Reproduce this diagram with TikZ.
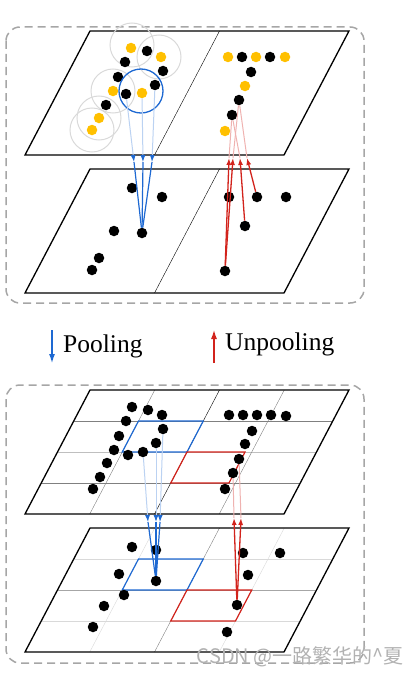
\documentclass[tikz,border=0pt]{standalone}
\usepackage{fontspec}
\setmainfont{Liberation Serif}
\newfontfamily\cjk{Noto Sans CJK SC}
\usetikzlibrary{arrows.meta}

\definecolor{poolblue}{RGB}{30,105,210}
\definecolor{unpoolred}{RGB}{210,35,28}
\definecolor{ptyellow}{RGB}{255,192,0}

\tikzset{
	bdot/.style={circle, fill=black, inner sep=0pt, minimum size=10.5pt},
	ydot/.style={circle, fill=ptyellow, inner sep=0pt, minimum size=10.5pt},
	plane/.style={line width=1.3pt},
	frame/.style={draw=gray!70, line width=1.5pt, dash pattern=on 8pt off 5pt, rounded corners=14pt},
	field/.style={draw=gray!30, line width=1pt},
	poolin/.style={draw=poolblue!30, line width=1pt, -{Latex[color=poolblue, length=7pt, width=5pt]}},
	poolout/.style={draw=poolblue, line width=1.2pt},
	unpoolin/.style={draw=unpoolred, line width=1.3pt, -{Latex[length=7pt, width=5pt]}},
	unpoolout/.style={draw=unpoolred!35, line width=1pt},
	cell/.style={line width=1.2pt}
}

\begin{document}
\begin{tikzpicture}[x=1pt, y=-1pt]
	\useasboundingbox (0,0) rectangle (419,677);

	% ---- point cloud: ball query ----
	\draw [frame] (6,27) rectangle (364,303);
	\draw [plane] (25,155) -- (284,155) -- (349,31) -- (90,31) -- cycle;
	\draw [thin] (154.5,155) -- (219.5,31);
	\draw [plane] (25,293) -- (284,293) -- (349,169) -- (90,169) -- cycle;
	\draw [thin] (154.5,293) -- (219.5,169);

	\foreach \c in {(132,45),(159,57),(113,91),(99,118),(92,130)}
		\draw [field] \c circle (22);

	\foreach \s/\p [count=\i] in {ydot/{131,48}, bdot/{147,51}, ydot/{161,57}, bdot/{125,62},
		bdot/{163,71}, bdot/{118,77}, bdot/{155,85}, ydot/{113,91}, bdot/{126,94},
		ydot/{142,93}, bdot/{106,105}, ydot/{99,118}, ydot/{92,130}}
		\node [\s] (t\i) at (\p) {};
	\foreach \s/\p [count=\i] in {ydot/{228,57}, bdot/{242,57}, ydot/{256,57}, bdot/{270,57},
		ydot/{285,57}, bdot/{251,72}, ydot/{245,86}, bdot/{239,100}, bdot/{232,115}, ydot/{225,131}}
		\node [\s] (s\i) at (\p) {};
	\foreach \p [count=\i] in {{132,188},{162,197},{114,231},{142,233},{99,258},{92,270}}
		\node [bdot] (l\i) at (\p) {};
	\foreach \p [count=\i] in {{229,197},{257,197},{286,197},{245,226},{225,271}}
		\node [bdot] (r\i) at (\p) {};

	\draw [poolblue, line width=1.3pt] (141,91) circle (22);

	\coordinate (pj1) at (134,162);
	\coordinate (pj2) at (143,162);
	\coordinate (pj3) at (152,162);
	\draw [poolin] (t9) -- (pj1);
	\draw [poolin] (t10) -- (pj2);
	\draw [poolin] (t7) -- (pj3);
	\foreach \j in {1,2,3} \draw [poolout] (pj\j) -- (l4);

	\coordinate (uj1) at (229,158);
	\coordinate (uj2) at (233,158);
	\coordinate (uj3) at (240,158);
	\coordinate (uj4) at (247,158);
	\draw [unpoolin] (r5) -- (uj1);
	\draw [unpoolin] (r5) -- (uj2);
	\draw [unpoolin] (r4) -- (uj3);
	\draw [unpoolin] (r2) -- (uj4);
	\draw [unpoolout] (uj1) -- (s9);
	\draw [unpoolout] (uj2) -- (s8);
	\draw [unpoolout] (uj3) -- (s9);
	\draw [unpoolout] (uj4) -- (s8);

	% ---- legend ----
	\node [anchor=west, inner sep=0pt, font=\fontsize{25.5}{30}\selectfont] (pooltxt) at (63,346) {Pooling};
	\node [anchor=west, inner sep=0pt, font=\fontsize{25.5}{30}\selectfont] (unpooltxt) at (225,344) {Unpooling};
	\draw [poolblue, line width=2pt, -{Latex[length=10pt, width=6pt]}] (52,330) -- (52,364);
	\draw [unpoolred, line width=2pt, -{Latex[length=10pt, width=6pt]}] (214,363) -- (214,329);

	% ---- image: grid cells ----
	\draw [frame] (6,385) rectangle (364,663);
	\foreach \i/\c in {1/gray, 2/gray!50, 3/gray}
		\draw [\c] ({90-16.25*\i},{390+31*\i}) -- ({349-16.25*\i},{390+31*\i});
	\foreach \i/\c in {1/gray, 2/black, 3/gray}
		\draw [\c] ({90+64.75*\i},390) -- ({25+64.75*\i},514);
	\draw [plane] (25,514) -- (284,514) -- (349,390) -- (90,390) -- cycle;

	\foreach \i/\c in {1/gray!30, 2/gray!70, 3/gray!30}
		\draw [\c] ({90-16.25*\i},{528+31*\i}) -- ({349-16.25*\i},{528+31*\i});
	\foreach \i/\c in {1/gray!30, 2/gray, 3/gray!30}
		\draw [\c] ({90+64.75*\i},528) -- ({25+64.75*\i},652);
	\draw [plane] (25,652) -- (284,652) -- (349,528) -- (90,528) -- cycle;

	\draw [cell, poolblue] (138.5,421) -- (203.25,421) -- (187,452) -- (122.25,452) -- cycle;
	\draw [cell, unpoolred] (187,452) -- (245,452) -- (229,483) -- (170.75,483) -- cycle;
	\draw [cell, poolblue] (138.5,559) -- (203.25,559) -- (187,590) -- (122.25,590) -- cycle;
	\draw [cell, unpoolred] (187,590) -- (251.75,590) -- (235.5,621) -- (170.75,621) -- cycle;

	\foreach \p [count=\i] in {{132,407},{148,410},{162,415},{126,421},{163,429},{119,436},
		{156,443},{114,450},{128,455},{143,452},{107,463},{100,477},{93,489}}
		\node [bdot] (g\i) at (\p) {};
	\foreach \p [count=\i] in {{229,415},{243,415},{257,415},{271,415},{286,416},{252,431},
		{245,444},{239,459},{233,473},{225,489}}
		\node [bdot] (h\i) at (\p) {};
	\foreach \p [count=\i] in {{132,547},{156,550},{119,574},{156,581},{124,595},{104,606},{93,627}}
		\node [bdot] (m\i) at (\p) {};
	\foreach \p [count=\i] in {{243,553},{280,553},{248,575},{237,605},{227,632}}
		\node [bdot] (n\i) at (\p) {};

	\coordinate (qj1) at (148,522);
	\coordinate (qj2) at (156,522);
	\coordinate (qj3) at (160,522);
	\draw [poolin] (g10) -- (qj1);
	\draw [poolin] (g7) -- (qj2);
	\draw [poolin] (g5) -- (qj3);
	\foreach \j in {1,2,3} \draw [poolout] (qj\j) -- (m4);

	\coordinate (vj1) at (234,518);
	\coordinate (vj2) at (241,518);
	\draw [unpoolin] (n4) -- (vj1);
	\draw [unpoolin] (n4) -- (vj2);
	\draw [unpoolout] (vj1) -- (h9);
	\draw [unpoolout] (vj2) -- (h8);

	\node [anchor=east, inner sep=0pt, text=gray!60, font=\cjk\fontsize{20}{20}\selectfont] (mark) at (404,657) {CSDN @一路繁华的\textasciicircum 夏};
\end{tikzpicture}
\end{document}
